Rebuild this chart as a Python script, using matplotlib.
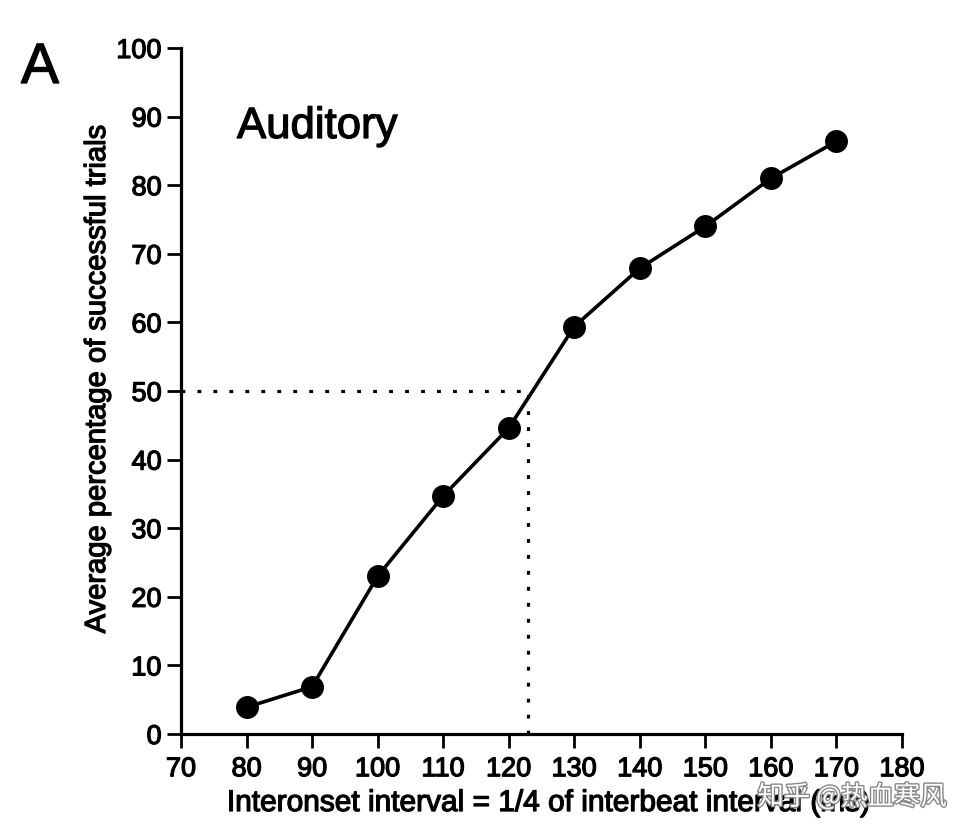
import matplotlib
matplotlib.use("Agg")
import matplotlib.pyplot as plt
import matplotlib.patheffects as pe

# Data
interval_ms = [80, 90, 100, 110, 120, 130, 140, 150, 160, 170]
pct_success = [3.9, 6.9, 23.0, 34.7, 44.6, 59.4, 67.9, 74.0, 81.0, 86.4]
threshold_pct = 50
threshold_ms = 123
xticks = [70, 80, 90, 100, 110, 120, 130, 140, 150, 160, 170, 180]
yticks = [0, 10, 20, 30, 40, 50, 60, 70, 80, 90, 100]

plt.rcParams['font.family'] = ['Liberation Sans', 'DejaVu Sans']

W, H = 980, 834
fig = plt.figure(figsize=(W / 100, H / 100), dpi=100)
ax = fig.add_axes([181 / W, 1 - 734 / H, 721 / W, 686 / H])

ax.plot(interval_ms, pct_success, color='black', lw=2.6, marker='o',
        markersize=15.5, markerfacecolor='black', markeredgecolor='black',
        zorder=3, clip_on=False)

ax.plot([70, threshold_ms], [threshold_pct, threshold_pct], color='black',
        lw=2.3, linestyle=(0, (1.2, 3.8)), zorder=2)
ax.plot([threshold_ms, threshold_ms], [0, threshold_pct], color='black',
        lw=2.3, linestyle=(0, (1.2, 3.8)), zorder=2)

ax.set_xlim(70, 180)
ax.set_ylim(0, 100)
ax.set_xticks(xticks)
ax.set_yticks(yticks)
ax.set_xticklabels([str(v) for v in xticks])
ax.set_yticklabels([str(v) for v in yticks])

for s in ['top', 'right']:
    ax.spines[s].set_visible(False)
for s in ['left', 'bottom']:
    ax.spines[s].set_linewidth(2.3)
    ax.spines[s].set_color('black')

ax.tick_params(axis='x', direction='out', length=10, width=2.0, pad=6,
               labelsize=19.5, colors='black')
ax.tick_params(axis='y', direction='out', length=10, width=2.0, pad=4,
               labelsize=19.5, colors='black')

bold = [pe.withStroke(linewidth=0.9, foreground='black')]
for lab in ax.get_xticklabels() + ax.get_yticklabels():
    lab.set_path_effects(bold)

t1 = fig.text(97 / W, 1 - 379 / H, 'Average percentage of successful trials',
              rotation=90, ha='center', va='center', fontsize=21)
t2 = fig.text(549 / W, 1 - 803 / H, 'Interonset interval = 1/4 of interbeat interval (ms)',
              ha='center', va='center', fontsize=21.5)
t3 = fig.text(40 / W, 1 - 68 / H, 'A', ha='center', va='center', fontsize=41)
t4 = fig.text(237 / W, 1 - 138 / H, 'Auditory', ha='left', va='baseline', fontsize=31.5)
for t in (t1, t2, t3, t4):
    t.set_path_effects(bold)

wm = fig.text(852 / W, 1 - 797 / H, '知乎 @热血寒风', ha='center', va='center',
              fontsize=19, color='white',
              family=['Noto Sans CJK SC', 'DejaVu Sans'], zorder=10)
wm.set_path_effects([pe.withStroke(linewidth=2, foreground='#888888')])

fig.savefig('out.png', dpi=100, facecolor='white')
